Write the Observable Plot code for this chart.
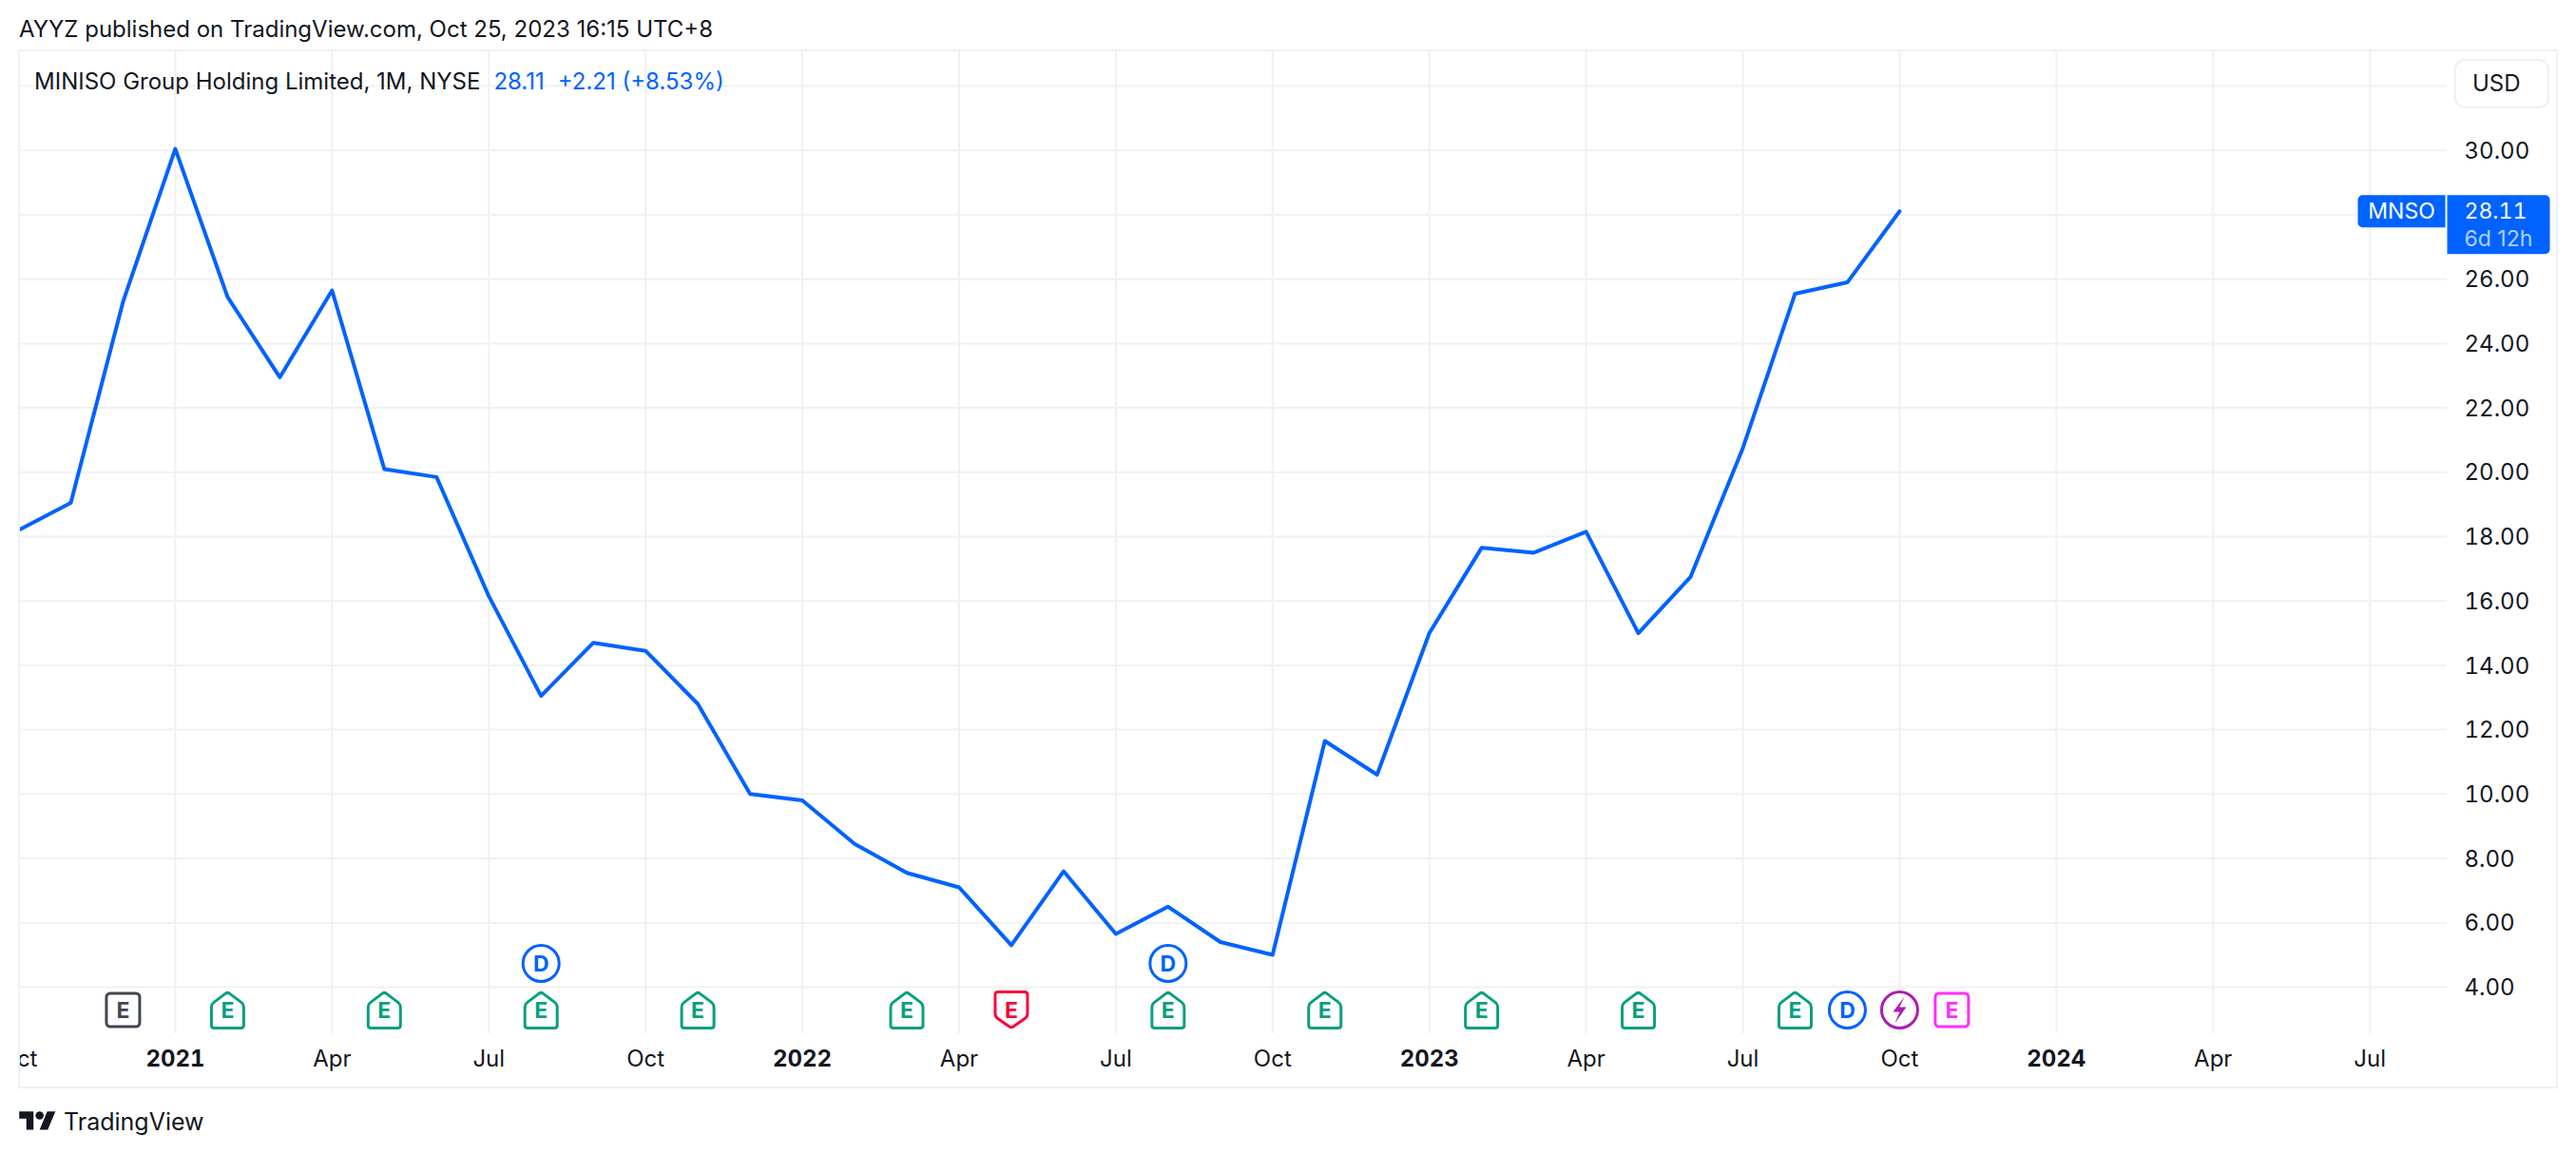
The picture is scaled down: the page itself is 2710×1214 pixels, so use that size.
<!DOCTYPE html>
<html>
<head>
<meta charset="utf-8">
<script src="https://cdn.jsdelivr.net/npm/d3@7"></script>
<script src="https://cdn.jsdelivr.net/npm/@observablehq/plot@0.6"></script>
<style>
  html,body{margin:0;padding:0;background:#fff;width:2710px;height:1214px;overflow:hidden;font-family:Inter,"Noto Sans",sans-serif;color:#131722}
  .abs{position:absolute;white-space:nowrap}
  #pub{left:20px;top:16px;font-size:24px;line-height:30px}
  #legend{left:36px;top:71px;font-size:24px;line-height:30px}
  #legend .v{color:#0062ff;margin-left:14px}
  #usd{left:2582px;top:62px;width:100px;height:52px;box-sizing:border-box;border:2px solid #f0f0f4;border-radius:11px;font-size:24px;line-height:48px;padding-left:17px;background:#fff}
  #frame{left:19px;top:52px;width:2672px;height:1093px;box-sizing:border-box;border:2px solid #f0f0f5;pointer-events:none}
  #clip{left:20px;top:52px;width:2670px;height:1092px;overflow:hidden}
  #clip svg{display:block;margin-left:-20px;max-width:none !important;width:2710px;height:1092px}
  #logo{left:20px;top:1165px;display:flex;align-items:center;gap:8px;font-size:25px;font-weight:400;line-height:30px}
</style>
</head>
<body>
<div class="abs" id="pub">AYYZ published on TradingView.com, Oct 25, 2023 16:15 UTC+8</div>
<div class="abs" id="clip"></div>
<div class="abs" id="frame"></div>
<div class="abs" id="legend">MINISO Group Holding Limited, 1M, NYSE<span class="v">28.11</span><span class="v">+2.21 (+8.53%)</span></div>
<div class="abs" id="usd">USD</div>
<div class="abs" id="logo"><svg width="39" height="30" viewBox="0 0 36 28"><path fill="#131722" d="M14 22H7V11H0V4h14v18zM28 22h-8l7.5-18h8L28 22z"/><circle fill="#131722" cx="20" cy="8" r="4"/></svg><span>TradingView</span></div>
<script>
const months = [
  "Oct 2020","Nov 2020","Dec 2020",
  "Jan 2021","Feb 2021","Mar 2021","Apr 2021","May 2021","Jun 2021","Jul 2021","Aug 2021","Sep 2021","Oct 2021","Nov 2021","Dec 2021",
  "Jan 2022","Feb 2022","Mar 2022","Apr 2022","May 2022","Jun 2022","Jul 2022","Aug 2022","Sep 2022","Oct 2022","Nov 2022","Dec 2022",
  "Jan 2023","Feb 2023","Mar 2023","Apr 2023","May 2023","Jun 2023","Jul 2023","Aug 2023","Sep 2023","Oct 2023","Nov 2023","Dec 2023",
  "Jan 2024","Feb 2024","Mar 2024","Apr 2024","May 2024","Jun 2024","Jul 2024"
];
const closes = [
  18.2,19.05,25.3,
  30.05,25.45,22.95,25.65,20.1,19.85,16.15,13.05,14.7,14.45,12.8,10.0,
  9.8,8.45,7.55,7.1,5.3,7.6,5.65,6.5,5.4,5.0,11.65,10.6,
  15.0,17.65,17.5,18.15,15.0,16.75,20.75,25.55,25.9,28.11
];
const quarterTicks = ["Oct 2020","Apr 2021","Jul 2021","Oct 2021","Apr 2022","Jul 2022","Oct 2022","Apr 2023","Jul 2023","Oct 2023","Apr 2024","Jul 2024"];
const yearTicks = ["Jan 2021","Jan 2022","Jan 2023","Jan 2024"];
const priceLabels = [4,6,8,10,12,14,16,18,20,22,24,26,28,30];
const priceGrid = [4,6,8,10,12,14,16,18,20,22,24,26,28,30,32];
const earningsBeat = ["Feb 2021","May 2021","Aug 2021","Nov 2021","Mar 2022","Aug 2022","Nov 2022","Feb 2023","May 2023","Aug 2023"];
const earningsMiss = ["May 2022"];
const earningsNeutral = ["Dec 2020"];
const earningsNext = ["Nov 2023"];
const dividendsLow = ["Sep 2023"];
const dividendsHigh = ["Aug 2021","Aug 2022"];
const newsFlash = ["Oct 2023"];
const lastClose = 28.11;

const pos = m => months.indexOf(m);
const series = closes.map((c,i)=>({i,c}));

const poly = pts => ({draw(ctx){
  const n = pts.length, rad = 3;
  for (let k=0;k<n;k++){
    const a=pts[k], b=pts[(k+1)%n], p=pts[(k+n-1)%n];
    const d=Math.hypot(a[0]-p[0],a[1]-p[1]);
    const sx=a[0]+(p[0]-a[0])*rad/d, sy=a[1]+(p[1]-a[1])*rad/d;
    if(k===0) ctx.moveTo(sx,sy); else ctx.lineTo(sx,sy);
    const d2=Math.hypot(b[0]-a[0],b[1]-a[1]);
    ctx.quadraticCurveTo(a[0],a[1],a[0]+(b[0]-a[0])*rad/d2,a[1]+(b[1]-a[1])*rad/d2);
  }
  ctx.closePath();
}});
const boxSym = (w,h,r=[3,3,3,3]) => ({draw(ctx){
  const x=-w/2,y=-h/2;
  ctx.moveTo(x+r[0],y);ctx.lineTo(x+w-r[1],y);ctx.arcTo(x+w,y,x+w,y+r[1],r[1]);
  ctx.lineTo(x+w,y+h-r[2]);ctx.arcTo(x+w,y+h,x+w-r[2],y+h,r[2]);
  ctx.lineTo(x+r[3],y+h);ctx.arcTo(x,y+h,x,y+h-r[3],r[3]);
  ctx.lineTo(x,y+r[0]);ctx.arcTo(x,y,x+r[0],y,r[0]);ctx.closePath();
}});
const house = poly([[0,-19],[17,-6],[17,19],[-17,19],[-17,-6]]);
const shield = poly([[-17,-19],[17,-19],[17,7],[0,19],[-17,7]]);
const square = boxSym(35,35,[4,4,4,4]);
const bolt = {draw(ctx){
  ctx.moveTo(5,-14);ctx.lineTo(-7,2);ctx.lineTo(0,2);ctx.lineTo(-5,14);ctx.lineTo(7,-3);ctx.lineTo(0,-3);ctx.closePath();
}};

const rowE = -25, rowD = -74, sw = 3;
const badge = (list, symbol, color, letter, dy, r=20) => [
  Plot.dot(list,{x:pos,frameAnchor:"bottom",dy,symbol,r,fill:"white",stroke:color,strokeWidth:sw}),
  letter ? Plot.text(list,{x:pos,frameAnchor:"bottom",lineAnchor:"middle",dy:dy+1,text:()=>letter,fill:color,fontSize:23,fontWeight:700}) : null
];

const chart = Plot.plot({
  width:2710, height:1092,
  marginLeft:19, marginRight:136, marginTop:0, marginBottom:57,
  x:{type:"linear",domain:[0,46.48],axis:null},
  y:{type:"linear",domain:[2.55,33.125],axis:null},
  style:{fontFamily:"Inter, 'Noto Sans', sans-serif",fontSize:"24px",color:"#131722",background:"transparent",overflow:"visible",maxWidth:"none"},
  marks:[
    Plot.gridX(quarterTicks.concat(yearTicks).map(pos),{stroke:"#f1f1f4",strokeOpacity:1,strokeWidth:2}),
    Plot.gridY(priceGrid,{stroke:"#f1f1f4",strokeOpacity:1,strokeWidth:2}),
    Plot.axisY(priceLabels,{anchor:"right",tickSize:0,tickPadding:18,dy:1,tickFormat:d3.format(".2f"),fontSize:24,fill:"#131722",label:null}),
    Plot.axisX(quarterTicks.map(pos),{anchor:"bottom",tickSize:0,tickPadding:17,tickFormat:i=>months[i].slice(0,3),fontSize:24,fill:"#131722",label:null}),
    Plot.axisX(yearTicks.map(pos),{anchor:"bottom",tickSize:0,tickPadding:17,tickFormat:i=>months[i].slice(4),fontSize:24,fontWeight:700,fill:"#131722",label:null}),
    Plot.lineY(series,{x:"i",y:"c",stroke:"#0062ff",strokeWidth:4,strokeLinejoin:"round",curve:"linear"}),
    ...badge(earningsNeutral,square,"#434651","E",rowE),
    ...badge(earningsBeat,house,"#089f80","E",rowE),
    ...badge(earningsMiss,shield,"#f7073b","E",rowE),
    ...badge(earningsNext,square,"#ff2efc","E",rowE),
    ...badge(dividendsLow,"circle","#0062ff","D",rowE,19),
    ...badge(dividendsHigh,"circle","#0062ff","D",rowD,19),
    ...badge(newsFlash,"circle","#ab1db5",null,rowE,19),
    Plot.dot(newsFlash,{x:pos,frameAnchor:"bottom",dy:rowE,symbol:bolt,r:10,fill:"#ab1db5",stroke:"none"}),
    Plot.dot([lastClose],{y:d=>d,frameAnchor:"right",dx:-48,symbol:boxSym(92,34,[5,0,0,5]),r:10,fill:"#0062ff",stroke:"none"}),
    Plot.dot([lastClose],{y:d=>d,frameAnchor:"right",dx:54,dy:14,symbol:boxSym(108,62,[0,5,5,0]),r:10,fill:"#0062ff",stroke:"none"}),
    Plot.text([lastClose],{y:d=>d,frameAnchor:"right",dx:-48,textAnchor:"middle",text:()=>"MNSO",fill:"#fff",fontSize:23}),
    Plot.text([lastClose],{y:d=>d,frameAnchor:"right",dx:18,text:d=>d3.format(".2f")(d),textAnchor:"start",fill:"#fff",fontSize:23,fontVariant:"tabular-nums"}),
    Plot.text([lastClose],{y:d=>d,frameAnchor:"right",dx:18,dy:29,text:()=>"6d 12h",textAnchor:"start",fill:"#b3d0ff",fontSize:23})
  ]
});
document.getElementById("clip").appendChild(chart);
</script>
</body>
</html>
